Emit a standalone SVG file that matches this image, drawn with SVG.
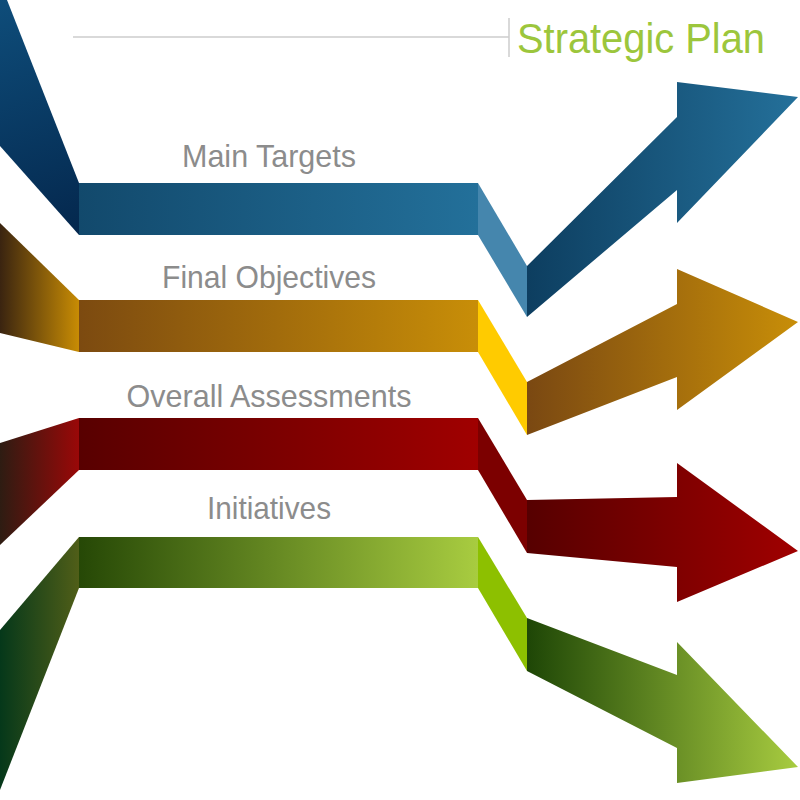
<svg xmlns="http://www.w3.org/2000/svg" width="800" height="800" viewBox="0 0 800 800">
<style>
.lbl{font-family:"Liberation Sans",Arial,sans-serif;font-size:32px;fill:#8c8c8c;text-anchor:middle}
.ttl{font-family:"Liberation Sans",Arial,sans-serif;font-size:42px;fill:#9cc63c}
.rule{stroke:#cdcdcd;stroke-width:1.5;fill:none}
</style>
<defs>
<linearGradient id="bL" gradientUnits="userSpaceOnUse" x1="0" y1="0" x2="80" y2="235"><stop offset="0" stop-color="#0e4d7a"/><stop offset="1" stop-color="#04274d"/></linearGradient>
<linearGradient id="bB" gradientUnits="userSpaceOnUse" x1="79" y1="0" x2="478" y2="0"><stop offset="0" stop-color="#12496c"/><stop offset="1" stop-color="#23709a"/></linearGradient>
<linearGradient id="bA" gradientUnits="userSpaceOnUse" x1="527" y1="0" x2="798" y2="0"><stop offset="0" stop-color="#0d3e60"/><stop offset="1" stop-color="#24709a"/></linearGradient>
<linearGradient id="gL" gradientUnits="userSpaceOnUse" x1="0" y1="0" x2="79" y2="0"><stop offset="0" stop-color="#3a2410"/><stop offset="1" stop-color="#c88c04"/></linearGradient>
<linearGradient id="gB" gradientUnits="userSpaceOnUse" x1="79" y1="0" x2="478" y2="0"><stop offset="0" stop-color="#7c4a10"/><stop offset="1" stop-color="#c88e08"/></linearGradient>
<linearGradient id="gA" gradientUnits="userSpaceOnUse" x1="527" y1="0" x2="798" y2="0"><stop offset="0" stop-color="#7a4812"/><stop offset="1" stop-color="#c88e08"/></linearGradient>
<linearGradient id="rL" gradientUnits="userSpaceOnUse" x1="0" y1="0" x2="79" y2="0"><stop offset="0" stop-color="#2e1c12"/><stop offset="1" stop-color="#9a0808"/></linearGradient>
<linearGradient id="rB" gradientUnits="userSpaceOnUse" x1="79" y1="0" x2="478" y2="0"><stop offset="0" stop-color="#580000"/><stop offset="1" stop-color="#a00000"/></linearGradient>
<linearGradient id="rA" gradientUnits="userSpaceOnUse" x1="527" y1="0" x2="798" y2="0"><stop offset="0" stop-color="#560000"/><stop offset="1" stop-color="#a00000"/></linearGradient>
<linearGradient id="eL" gradientUnits="userSpaceOnUse" x1="0" y1="0" x2="79" y2="0"><stop offset="0" stop-color="#05381a"/><stop offset="1" stop-color="#505e18"/></linearGradient>
<linearGradient id="eB" gradientUnits="userSpaceOnUse" x1="79" y1="0" x2="478" y2="0"><stop offset="0" stop-color="#264806"/><stop offset="1" stop-color="#a8cc40"/></linearGradient>
<linearGradient id="eA" gradientUnits="userSpaceOnUse" x1="527" y1="0" x2="798" y2="0"><stop offset="0" stop-color="#1e4606"/><stop offset="1" stop-color="#a8cc40"/></linearGradient>
</defs>

<g id="title">
<line class="rule" x1="73" y1="37" x2="509" y2="37"/>
<line class="rule" x1="509" y1="18" x2="509" y2="57"/>
<text class="ttl" x="517" y="53" textLength="248" lengthAdjust="spacingAndGlyphs">Strategic Plan</text>
</g>

<g id="main-targets">
<polygon fill="url(#bL)" points="0,0 7,0 79,183 79,235 0,146"/>
<rect fill="url(#bB)" x="79" y="183" width="399" height="52"/>
<polygon fill="#4586ad" points="478,183 527,266 527,317 478,235"/>
<polygon fill="url(#bA)" points="527,266 677,117 677,82 798,97 677,223 677,190 527,317"/>
<text class="lbl" x="269" y="167" textLength="174" lengthAdjust="spacingAndGlyphs">Main Targets</text>
</g>

<g id="final-objectives">
<polygon fill="url(#gL)" points="0,223 79,300 79,352 0,333"/>
<rect fill="url(#gB)" x="79" y="300" width="399" height="52"/>
<polygon fill="#ffcb00" points="478,300 527,382 527,435 478,352"/>
<polygon fill="url(#gA)" points="527,382 677,304 677,269 798,322 677,410 677,377 527,435"/>
<text class="lbl" x="269" y="288" textLength="214" lengthAdjust="spacingAndGlyphs">Final Objectives</text>
</g>

<g id="overall-assessments">
<polygon fill="url(#rL)" points="0,443 79,418 79,470 0,545"/>
<rect fill="url(#rB)" x="79" y="418" width="399" height="52"/>
<polygon fill="#7c0000" points="478,418 527,500 527,553 478,470"/>
<polygon fill="url(#rA)" points="527,500 677,497 677,463 798,551 677,602 677,567 527,553"/>
<text class="lbl" x="269" y="407" textLength="285" lengthAdjust="spacingAndGlyphs">Overall Assessments</text>
</g>

<g id="initiatives">
<polygon fill="url(#eL)" points="0,630 79,537 79,588 0,790"/>
<rect fill="url(#eB)" x="79" y="537" width="399" height="51"/>
<polygon fill="#8dc000" points="478,537 527,618 527,671 478,588"/>
<polygon fill="url(#eA)" points="527,618 677,675 677,642 798,767 677,783 677,748 527,671"/>
<text class="lbl" x="269" y="519" textLength="124" lengthAdjust="spacingAndGlyphs">Initiatives</text>
</g>
</svg>
